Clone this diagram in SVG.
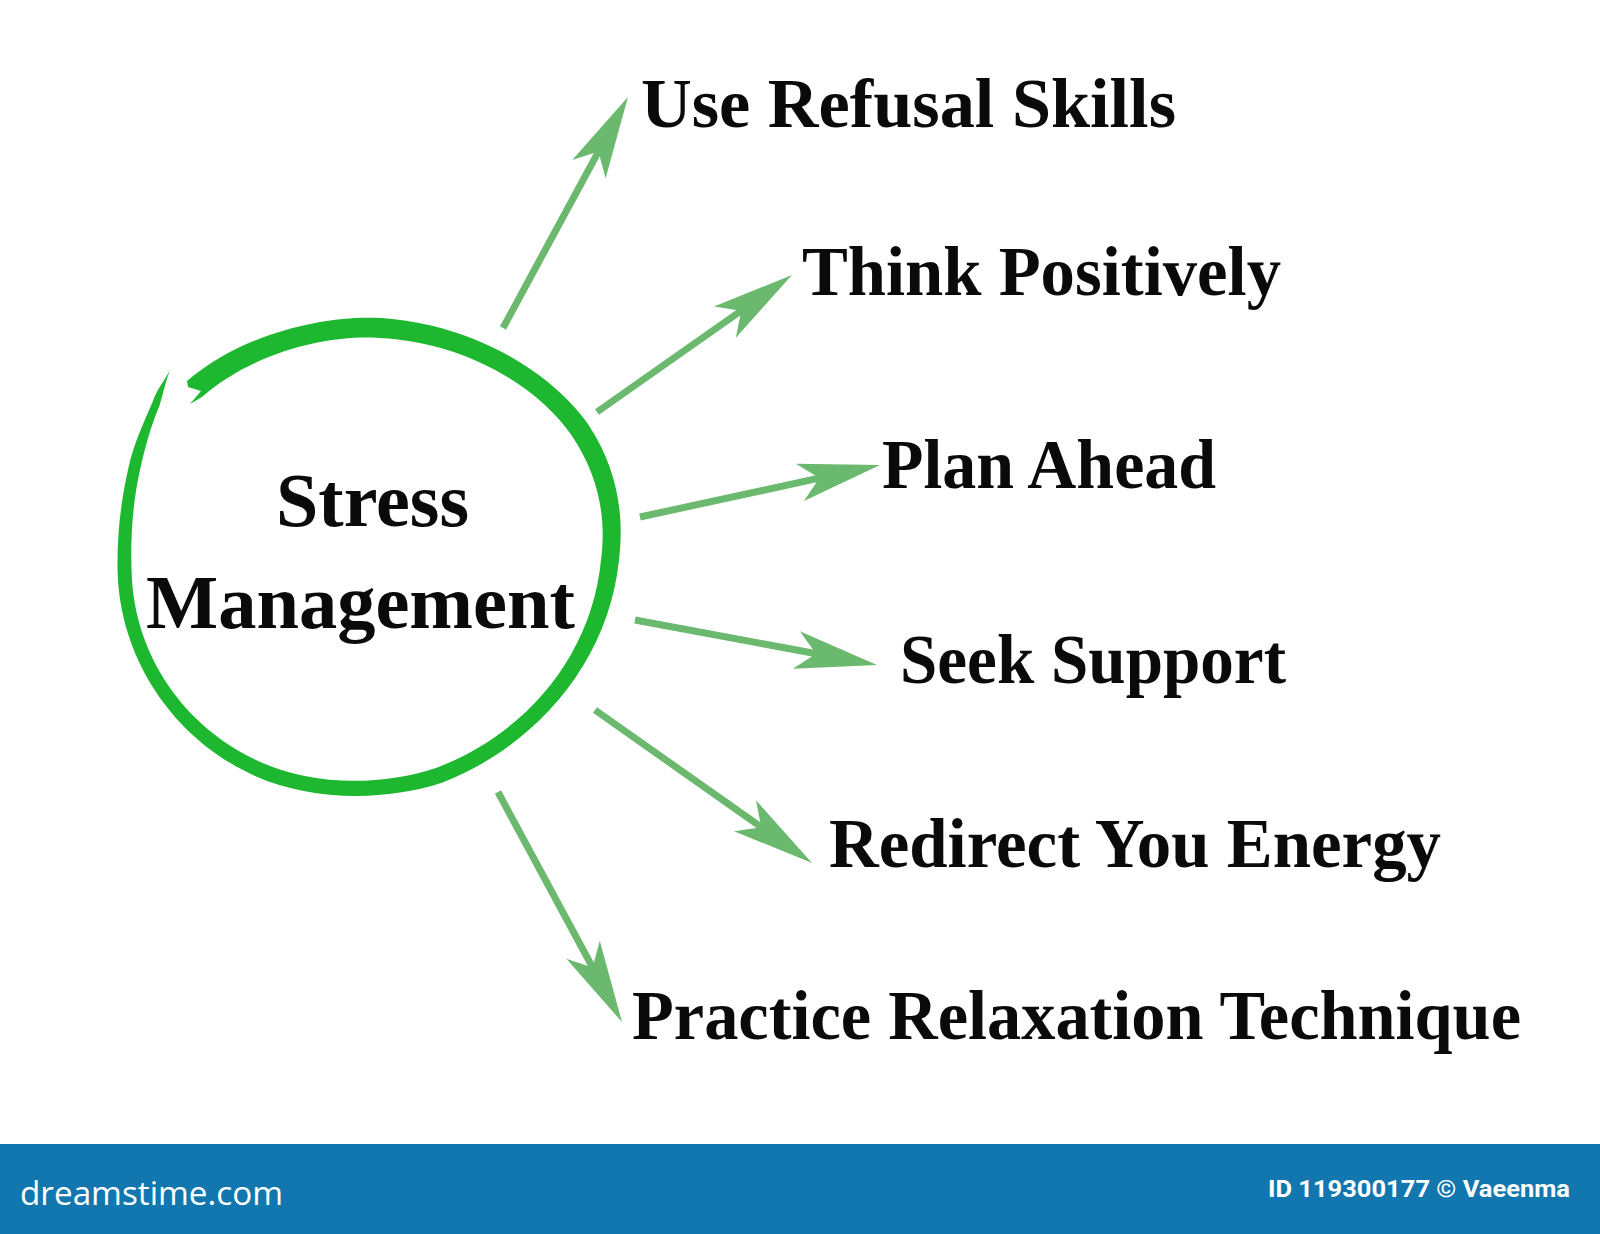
<svg xmlns="http://www.w3.org/2000/svg" width="1600" height="1234" viewBox="0 0 1600 1234">
<style>
.lbl{font-family:"Liberation Serif","Times New Roman",serif;font-weight:bold;font-size:69px;fill:#0a0a0a}
.ctr{font-family:"Liberation Serif","Times New Roman",serif;font-weight:bold;font-size:77px;fill:#0a0a0a}
.arr{stroke:#6ab96e;stroke-width:7;fill:none;marker-end:url(#head)}
.ring{fill:#1db82f;stroke:none}
</style>
<defs>
<marker id="head" markerUnits="userSpaceOnUse" viewBox="-90 -25 100 50" refX="-60" refY="0" markerWidth="100" markerHeight="50" orient="auto">
<path d="M0,0 L-82,-19 L-62,0 L-82,19 Z" fill="#6ab96e"/>
</marker>
</defs>
<rect width="1600" height="1234" fill="#ffffff"/>
<g id="center">
<path class="ring" d="M187,381 C246,331 328.5,315.1 380.7,318 C474.3,324 552.1,373 588.6,424.9 C619.5,471.9 623.9,518.7 619,560.1 C608.2,663.6 535.3,746 442.6,782.6 C380.5,803 308.3,799.3 256.7,776.7 C174.6,740.2 123.6,662.8 118,580.7 C116,544.7 120.1,503.7 128.4,467.9 C133.6,444.4 143.6,422.9 152.8,401.6 C156.9,389.5 164.5,380.5 170,370 C165.5,381.5 163.1,394.5 159.2,406.4 C150.4,427.1 144.4,449.6 139.6,472.1 C131.9,506.3 130,545.3 132,579.3 C136.4,657.2 185.4,729.8 263.3,763.3 C311.7,784.7 379.5,787 437.4,767.4 C524.7,734 591.8,656.4 601,559.9 C606.1,521.3 600.5,478.1 571.4,435.1 C537.9,387 465.7,342 379.3,338 C331.5,334.9 256,350 202,397 L190,404 L201,391 L188,387 Z"/>
<text class="ctr" x="276" y="526" textLength="193" lengthAdjust="spacingAndGlyphs">Stress</text>
<text class="ctr" x="146" y="628" textLength="429" lengthAdjust="spacingAndGlyphs">Management</text>
</g>
<g id="connectors">
<line class="arr" x1="503" y1="328" x2="599.4" y2="149.8"/>
<line class="arr" x1="597" y1="412" x2="742.9" y2="309.5"/>
<line class="arr" x1="640" y1="517" x2="821.4" y2="477.7"/>
<line class="arr" x1="635" y1="620" x2="818" y2="654"/>
<line class="arr" x1="595" y1="710" x2="763" y2="828.4"/>
<line class="arr" x1="498" y1="792" x2="593.5" y2="969.2"/>
</g>
<g id="n1"><text class="lbl" x="641" y="127" textLength="535" lengthAdjust="spacingAndGlyphs">Use Refusal Skills</text></g>
<g id="n2"><text class="lbl" x="802" y="295" textLength="479" lengthAdjust="spacingAndGlyphs">Think Positively</text></g>
<g id="n3"><text class="lbl" x="882" y="488" textLength="334" lengthAdjust="spacingAndGlyphs">Plan Ahead</text></g>
<g id="n4"><text class="lbl" x="900" y="683" textLength="386" lengthAdjust="spacingAndGlyphs">Seek Support</text></g>
<g id="n5"><text class="lbl" x="829" y="867" textLength="612" lengthAdjust="spacingAndGlyphs">Redirect You Energy</text></g>
<g id="n6"><text class="lbl" x="632" y="1039" textLength="889" lengthAdjust="spacingAndGlyphs">Practice Relaxation Technique</text></g>
<g id="footer">
<rect x="0" y="1144" width="1600" height="90" fill="#1177ae"/>
<text x="20" y="1205" font-family="Open Sans, DejaVu Sans, sans-serif" font-size="32" fill="#ffffff" textLength="263" lengthAdjust="spacingAndGlyphs">dreamstime.com</text>
<text x="1268" y="1197" font-family="Roboto, Liberation Sans, sans-serif" font-weight="bold" font-size="24" fill="#ffffff" textLength="302" lengthAdjust="spacingAndGlyphs">ID 119300177 © Vaeenma</text>
</g>
</svg>
